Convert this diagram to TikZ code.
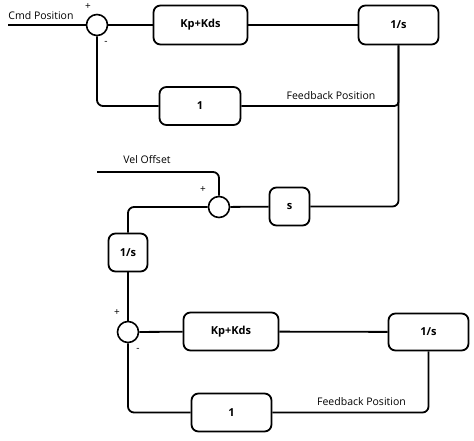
\documentclass[tikz,border=0pt]{standalone}
\usepackage{fontspec}
\setmainfont{Open Sans}
\begin{document}
\begin{tikzpicture}[x=1pt,y=-1pt,
  blk/.style={draw, line width=1.8pt, rounded corners=7pt, inner sep=0pt, font=\fontsize{11}{13}\selectfont\bfseries},
  sumnode/.style={draw, circle, line width=1.6pt, minimum size=21pt, inner sep=0pt},
  wire/.style={line width=1.8pt, rounded corners=6pt},
  lbl/.style={font=\fontsize{10.5}{12}\selectfont, inner sep=0pt},
  sgn/.style={font=\fontsize{10}{12}\selectfont, inner sep=0pt}]
\useasboundingbox (0,0) rectangle (474,441);
% top loop
\node[sumnode] (sum1) at (97,25) {};
\node[blk, minimum width=94pt, minimum height=39pt] (kp1) at (200.5,25) {Kp+Kds};
\node[blk, minimum width=80pt, minimum height=39pt] (is1) at (398.5,25) {1/s};
\node[blk, minimum width=81pt, minimum height=38pt] (fb1) at (200,106) {1};
\coordinate (cmd) at (8,25);
\node[lbl] (cmdl) at (41,16) {Cmd Position};
\node[sgn] (p1) at (88,7) {+};
\node[sgn] (m1) at (106,43) {-};
\node[lbl] (fbl1) at (331,96) {Feedback Position};
\draw[wire] (cmd) -- (sum1);
\draw[wire] (sum1) -- (kp1);
\draw[wire] (kp1) -- (is1);
\draw[wire,rounded corners=4pt] (is1.south) |- (fb1.east);
\draw[wire] (fb1.west) -| (sum1.south);
% middle
\node[sumnode] (sum2) at (219,207) {};
\node[blk, minimum width=40pt, minimum height=38pt] (s) at (289.5,206.5) {s};
\node[blk, minimum width=39pt, minimum height=38pt] (is2) at (128,252.5) {1/s};
\coordinate (vel) at (97,172);
\node[lbl] (vell) at (147,160) {Vel Offset};
\node[sgn] (p2) at (203,190) {+};
\draw[wire] (is1.south) |- (s.east);
\draw[wire] (vel) -| (sum2.north);
\draw[wire] (sum2) -- (s);
\draw[wire] (sum2.west) -| (is2.north);
% bottom loop
\node[sumnode] (sum3) at (128,332) {};
\node[blk, minimum width=95pt, minimum height=38pt] (kp2) at (231,331.5) {Kp+Kds};
\node[blk, minimum width=80pt, minimum height=37pt] (is3) at (428.5,332) {1/s};
\node[blk, minimum width=80pt, minimum height=38pt] (fb2) at (231.5,412.5) {1};
\node[sgn] (p3) at (117,313) {+};
\node[sgn] (m3) at (138,350) {-};
\node[lbl] (fbl2) at (361.5,402) {Feedback Position};
\draw[wire] (is2) -- (sum3);
\draw[wire] (sum3) -- (kp2);
\draw[wire] (kp2) -- (is3);
\draw[wire] (is3.south) |- (fb2.east);
\draw[wire] (fb2.west) -| (sum3.south);
\end{tikzpicture}
\end{document}
